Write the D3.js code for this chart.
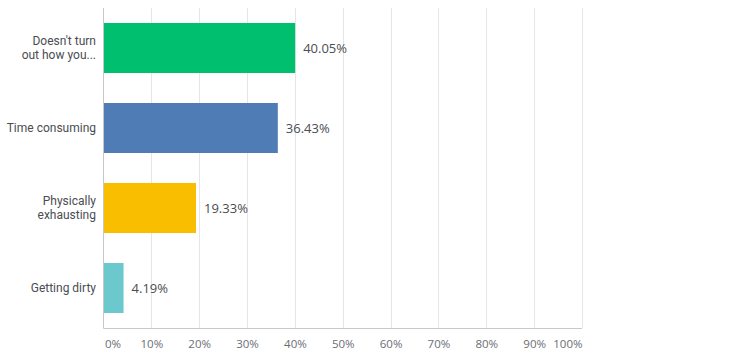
<!DOCTYPE html>
<html><head><meta charset="utf-8">
<script src="https://cdn.jsdelivr.net/npm/d3@7"></script>
<style>body{margin:0;background:#fff}svg{display:block;font-family:"Open Sans",sans-serif}</style>
</head><body><svg id="c" width="730" height="364"></svg>
<script>
const categories = [["Doesn't turn","out how you..."],["Time consuming"],["Physically","exhausting"],["Getting dirty"]];
const values = [40.05, 36.43, 19.33, 4.19];
const colors = ["#00bf6f","#507cb6","#f9be00","#6bc8cd"];
const tickValues = [0,10,20,30,40,50,60,70,80,90,100];

const svg = d3.select("#c");
const m = {left:103.5, right:582, top:8, bottom:328};
const x = d3.scaleLinear().domain([0,100]).range([m.left, m.right]);
const y = d3.scaleBand().domain(d3.range(categories.length)).range([m.top, m.bottom]).paddingInner(0.375).paddingOuter(0.1875);

// grid
svg.append("g").selectAll("line").data(tickValues.slice(1)).join("line")
  .attr("x1",d=>Math.round(x(d))+0.5).attr("x2",d=>Math.round(x(d))+0.5)
  .attr("y1",m.top).attr("y2",m.bottom).attr("stroke","#e6e6e6").attr("stroke-width",1);

// bars
svg.append("g").selectAll("rect").data(values).join("rect")
  .attr("x",x(0)).attr("y",(d,i)=>y(i)).attr("width",d=>x(d)-x(0)).attr("height",y.bandwidth())
  .attr("fill",(d,i)=>colors[i]);

// axes lines
svg.append("line").attr("x1",m.left).attr("x2",m.left).attr("y1",m.top).attr("y2",m.bottom+0.5).attr("stroke","#c8c8c8");
svg.append("line").attr("x1",m.left).attr("x2",m.right).attr("y1",m.bottom+0.5).attr("y2",m.bottom+0.5).attr("stroke","#c8c8c8");

// x tick labels
const xa = d3.axisBottom(x).tickValues(tickValues).tickFormat(d=>d+"%").tickSize(0).tickPadding(0);
const gx = svg.append("g").attr("transform",`translate(0,${m.bottom})`).call(xa);
gx.select(".domain").remove();
gx.selectAll("text").attr("y",0).attr("dy","0").attr("transform","translate(0,20)")
  .attr("font-family","'Open Sans',sans-serif").attr("font-size",11.5).attr("fill","#6b6e73")
  .attr("text-anchor",(d,i)=>i===0?"start":(i===tickValues.length-1?"end":"middle"))
  .attr("dx",(d,i)=>i===0?1:0);

// category labels (one text element per line)
const lines = [];
categories.forEach((c,i)=>c.forEach((t,j)=>lines.push({t,i,j,n:c.length})));
svg.append("g").selectAll("text").data(lines).join("text")
  .attr("text-anchor","end").attr("font-family","Roboto,sans-serif").attr("font-size",12).attr("fill","#4a4d52")
  .attr("x",96).attr("y",d=>y(d.i)+y.bandwidth()/2+(d.j-(d.n-1)/2)*14.5).attr("dy","0.35em").text(d=>d.t);

// value labels
svg.append("g").selectAll("text").data(values).join("text")
  .attr("x",d=>x(d)+8).attr("y",(d,i)=>y(i)+y.bandwidth()/2).attr("dy","0.35em")
  .attr("font-size",13).attr("fill","#4a4d52").text(d=>d.toFixed(2)+"%");
</script></body></html>
